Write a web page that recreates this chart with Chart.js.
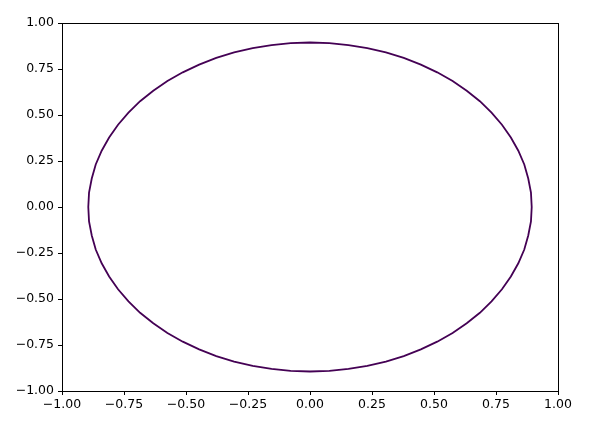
<!DOCTYPE html>
<html>
<head>
<meta charset="utf-8">
<script src="https://cdn.jsdelivr.net/npm/chart.js@4/dist/chart.umd.min.js"></script>
<style>
  html, body { margin: 0; padding: 0; background: #fff; }
  #chart { display: block; }
</style>
</head>
<body>
<canvas id="chart" width="599" height="435"></canvas>
<script>
// contour points, going round every 5 degrees
const contourX = [
  0.894, 0.891, 0.880, 0.864, 0.840, 0.810, 0.774, 0.732, 0.685, 0.632, 0.575, 0.513, 0.447, 0.378, 0.306, 0.231, 0.155, 0.078, 0.000,
  -0.078, -0.155, -0.231, -0.306, -0.378, -0.447, -0.513, -0.575, -0.632, -0.685, -0.732, -0.774, -0.810, -0.840, -0.864, -0.880, -0.891, -0.894,
  -0.891, -0.880, -0.864, -0.840, -0.810, -0.774, -0.732, -0.685, -0.632, -0.575, -0.513, -0.447, -0.378, -0.306, -0.231, -0.155, -0.078, 0.000,
  0.078, 0.155, 0.231, 0.306, 0.378, 0.447, 0.513, 0.575, 0.632, 0.685, 0.732, 0.774, 0.810, 0.840, 0.864, 0.880, 0.891, 0.894];
const contourY = [
  0.000, 0.078, 0.155, 0.231, 0.306, 0.378, 0.447, 0.513, 0.575, 0.632, 0.685, 0.732, 0.774, 0.810, 0.840, 0.864, 0.880, 0.891, 0.894,
  0.891, 0.880, 0.864, 0.840, 0.810, 0.774, 0.732, 0.685, 0.632, 0.575, 0.513, 0.447, 0.378, 0.306, 0.231, 0.155, 0.078, 0.000,
  -0.078, -0.155, -0.231, -0.306, -0.378, -0.447, -0.513, -0.575, -0.632, -0.685, -0.732, -0.774, -0.810, -0.840, -0.864, -0.880, -0.891, -0.894,
  -0.891, -0.880, -0.864, -0.840, -0.810, -0.774, -0.732, -0.685, -0.632, -0.575, -0.513, -0.447, -0.378, -0.306, -0.231, -0.155, -0.078, 0.000];
const xTicks = [-1, -0.75, -0.5, -0.25, 0, 0.25, 0.5, 0.75, 1];
const yTicks = [-1, -0.75, -0.5, -0.25, 0, 0.25, 0.5, 0.75, 1];

const points = contourX.map((x, i) => ({ x: x, y: contourY[i] }));

function fmt(v) {
  const s = Math.abs(v).toFixed(2);
  return v < 0 ? "\u2212" + s : s;
}

// matplotlib draws all four spines
const boxPlugin = {
  id: "box",
  afterDraw(chart) {
    const a = chart.chartArea;
    const ctx = chart.ctx;
    ctx.save();
    ctx.strokeStyle = "#000";
    ctx.lineWidth = 1;
    ctx.strokeRect(Math.round(a.left) + 0.5, Math.round(a.top) + 0.5,
      Math.round(a.right - a.left), Math.round(a.bottom - a.top));
    ctx.restore();
  }
};

const tickFont = { family: "'DejaVu Sans', sans-serif", size: 12.5 };

new Chart(document.getElementById("chart").getContext("2d"), {
  type: "scatter",
  data: {
    datasets: [{
      data: points,
      showLine: true,
      borderColor: "#440154",
      borderWidth: 1.8,
      pointRadius: 0,
      tension: 0,
      fill: false
    }]
  },
  options: {
    responsive: false,
    animation: false,
    layout: { padding: { left: 0, top: 23, right: 41, bottom: 0 } },
    plugins: { legend: { display: false }, tooltip: { enabled: false } },
    scales: {
      x: {
        type: "linear",
        min: -1, max: 1,
        afterBuildTicks: (axis) => { axis.ticks = xTicks.map(v => ({ value: v })); },
        afterFit: (axis) => { axis.height = 44; },
        ticks: { color: "#000", font: tickFont, padding: 2, callback: v => fmt(v), maxRotation: 0, autoSkip: false },
        grid: { drawOnChartArea: false, drawTicks: true, tickLength: 4, color: "#000" },
        border: { display: true, color: "#000" }
      },
      y: {
        type: "linear",
        min: -1, max: 1,
        afterBuildTicks: (axis) => { axis.ticks = yTicks.map(v => ({ value: v })); },
        afterFit: (axis) => { axis.width = 62; },
        ticks: { color: "#000", font: tickFont, padding: 4, callback: v => fmt(v), autoSkip: false },
        grid: { drawOnChartArea: false, drawTicks: true, tickLength: 4, color: "#000" },
        border: { display: true, color: "#000" }
      }
    }
  },
  plugins: [boxPlugin]
});
</script>
</body>
</html>
